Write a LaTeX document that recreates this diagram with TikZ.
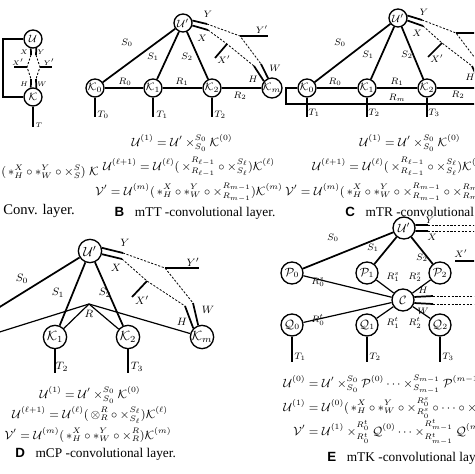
\documentclass[tikz,border=0pt]{standalone}
\usepackage{fontspec}
\setmainfont{Liberation Serif}
\newfontfamily\panelfont{Liberation Sans}
\begin{document}
\begin{tikzpicture}
[x=0.75pt,y=-0.75pt,
tensor/.style={circle,draw,line width=1pt,fill=white,inner sep=0pt,minimum size=13.5pt,font=\footnotesize},
bigtensor/.style={tensor,minimum size=17.5pt,font=\normalsize},
midtensor/.style={tensor,minimum size=16.5pt,font=\small},
leg/.style={line width=1.3pt,black},
bond/.style={line width=0.9pt,black},
conv/.style={line width=0.6pt,dash pattern=on 1.6pt off 1.2pt},
lbl/.style={font=\scriptsize,inner sep=0pt},
biglbl/.style={font=\footnotesize,inner sep=0pt},
tinylbl/.style={font=\tiny,inner sep=0pt},
eqn/.style={inner sep=0pt,font=\fontsize{8.6}{10}\selectfont},
panel/.style={font=\panelfont\bfseries}]

\useasboundingbox (0,0) rectangle (474,474);
\clip (0,0) rectangle (474,474);

%draw the conv. layer (A)
\node[tensor] (aU) at (33,39) {$\mathcal{U}$};
\node[tensor] (aK) at (33,97) {$\mathcal{K}$};
\coordinate (aL) at (3,97);
\coordinate (aT) at (33,127);
\coordinate (aXa) at (31,55); \coordinate (aXj) at (27,67); \coordinate (aXe) at (14,67); \coordinate (aHa) at (31,79);
\coordinate (aYa) at (36,55); \coordinate (aYj) at (40,67); \coordinate (aYe) at (52,67); \coordinate (aWa) at (36,79);
\draw[leg] (aU) -| (aL) -- (aK);
\draw[leg] (aK) -- (aT);
\draw[leg] (aU.257) -- (aXa);
\draw[conv] (aXa) -- (aXj) -- (aHa);
\draw[leg] (aXj) -- (aXe);
\draw[leg] (aHa) -- (aK.103);
\draw[leg] (aU.290) -- (aYa);
\draw[conv] (aYa) -- (aYj) -- (aWa);
\draw[leg] (aYj) -- (aYe);
\draw[leg] (aWa) -- (aK.70);
\node[tinylbl] (aX) at (24,52) {$X$};
\node[tinylbl] (aY) at (41,52) {$Y$};
\node[tinylbl] (aX') at (18,62) {$X'$};
\node[tinylbl] (aY') at (49,62) {$Y'$};
\node[tinylbl] (aH) at (24,84) {$H$};
\node[tinylbl] (aW) at (42,84) {$W$};
\node[tinylbl] (aTl) at (39,125) {$T$};
\node[eqn,anchor=west] (aEq) at (1,172) {$(\,\ast^{X}_{H}\circ\ast^{Y}_{W}\circ\times^{S}_{S})\;\mathcal{K}$};
\node[anchor=west,inner sep=0pt,font=\fontsize{11}{12}\selectfont] (aCap) at (3,211) {Conv. layer.};

%draw the mTT layer (B)
\node[tensor] (bU) at (183,23) {$\mathcal{U}'$};
\node[tensor] (bK0) at (95,88) {$\mathcal{K}_0$};
\node[tensor] (bK1) at (153,88) {$\mathcal{K}_1$};
\node[tensor] (bK2) at (212,88) {$\mathcal{K}_2$};
\node[tensor] (bKm) at (272,88) {$\mathcal{K}_m$};
\draw[bond] (bK0) -- (bK1) -- (bK2) -- (bKm);
\draw[leg] (bU) -- (bK0);
\draw[leg] (bU) -- (bK1);
\draw[leg] (bU) -- (bK2);
\foreach \k/\t in {0/95,1/153,2/212}
  {\coordinate (bT\k) at (\t,117);
   \draw[leg] (bK\k) -- (bT\k);}
\coordinate (bYa) at (207,24); \coordinate (bYj) at (240,36); \coordinate (bYe) at (268,36); \coordinate (bWa) at (261,64);
\coordinate (bXa) at (208,30); \coordinate (bXj) at (227,44); \coordinate (bXe) at (215,58); \coordinate (bHa) at (254,66);
\draw[leg] (bU.15) -- (bYa);
\draw[conv] (bYa) -- (bYj) -- (bWa);
\draw[leg] (bYj) -- (bYe);
\draw[leg] (bWa) -- (bKm.112);
\draw[leg] (bU.-15) -- (bXa);
\draw[conv] (bXa) -- (bXj) -- (bHa);
\draw[leg] (bXj) -- (bXe);
\draw[leg] (bHa) -- (bKm.140);
\node[lbl] (bY) at (208,14) {$Y$};
\node[lbl] (bX) at (202,38) {$X$};
\node[lbl] (bY') at (262,30) {$Y'$};
\node[lbl] (bX') at (224,60) {$X'$};
\node[lbl] (bW) at (275,68) {$W$};
\node[lbl] (bH) at (253,79) {$H$};
\node[lbl] (bS0) at (127,43) {$S_0$};
\node[lbl] (bS1) at (153,57) {$S_1$};
\node[lbl] (bS2) at (187,57) {$S_2$};
\node[lbl] (bR0) at (125,82) {$R_0$};
\node[lbl] (bR1) at (182,82) {$R_1$};
\node[lbl] (bR2) at (240,96) {$R_2$};
\node[lbl] (bT0l) at (103,115) {$T_0$};
\node[lbl] (bT1l) at (162,115) {$T_1$};
\node[lbl] (bT2l) at (220,115) {$T_2$};
\node[eqn] (bEq1) at (182,143) {$\mathcal{U}^{(1)}=\mathcal{U}'\times^{S_0}_{S_0}\mathcal{K}^{(0)}$};
\node[eqn] (bEq2) at (189,167) {$\mathcal{U}^{(\ell+1)}=\mathcal{U}^{(\ell)}(\,\times^{R_{\ell-1}}_{R_{\ell-1}}\circ\times^{S_\ell}_{S_\ell})\mathcal{K}^{(\ell)}$};
\node[eqn] (bEq3) at (189,192) {$\mathcal{V}'=\mathcal{U}^{(m)}(\,\ast^{X}_{H}\circ\ast^{Y}_{W}\circ\times^{R_{m-1}}_{R_{m-1}})\mathcal{K}^{(m)}$};
\node[inner sep=0pt] (bCap) at (195,213) {{\panelfont\bfseries B}\hspace{0.8em}mTT -convolutional layer.};

%draw the mTR layer (C)
\node[tensor] (cU) at (398,18) {$\mathcal{U}'$};
\node[tensor] (cK0) at (307,88) {$\mathcal{K}_0$};
\node[tensor] (cK1) at (367,88) {$\mathcal{K}_1$};
\node[tensor] (cK2) at (427,88) {$\mathcal{K}_2$};
\node[tensor] (cKm) at (487,88) {$\mathcal{K}_m$};
\coordinate (cL) at (286,104);
\coordinate (cR) at (490,104);
\draw[bond] (cK0) -- (cK1) -- (cK2) -- (cKm);
\draw[bond] (cK0) -| (cL) -- (cR);
\draw[leg] (cU) -- (cK0);
\draw[leg] (cU) -- (cK1);
\draw[leg] (cU) -- (cK2);
\foreach \k/\t in {0/307,1/367,2/427}
  {\coordinate (cT\k) at (\t,117);
   \draw[leg] (cK\k) -- (cT\k);}
\coordinate (cYa) at (422,20); \coordinate (cYj) at (456,33); \coordinate (cYe) at (490,33); \coordinate (cWa) at (478,62);
\coordinate (cXa) at (423,26); \coordinate (cXj) at (442,43); \coordinate (cXe) at (428,57); \coordinate (cHa) at (472,66);
\draw[leg] (cU.15) -- (cYa);
\draw[conv] (cYa) -- (cYj) -- (cWa);
\draw[leg] (cYj) -- (cYe);
\draw[leg] (cWa) -- (cKm.112);
\draw[leg] (cU.-15) -- (cXa);
\draw[conv] (cXa) -- (cXj) -- (cHa);
\draw[leg] (cXj) -- (cXe);
\draw[leg] (cHa) -- (cKm.140);
\node[lbl] (cY) at (424,12) {$Y$};
\node[lbl] (cX) at (417,33) {$X$};
\node[lbl] (cX') at (437,59) {$X'$};
\node[lbl] (cH) at (470,77) {$H$};
\node[lbl] (cS0) at (340,43) {$S_0$};
\node[lbl] (cS1) at (368,55) {$S_1$};
\node[lbl] (cS2) at (407,55) {$S_2$};
\node[lbl] (cR0) at (335,82) {$R_0$};
\node[lbl] (cR1) at (397,82) {$R_1$};
\node[lbl] (cR2) at (458,95) {$R_2$};
\node[lbl] (cRm) at (397,98) {$R_m$};
\node[lbl] (cT1l) at (314,113) {$T_1$};
\node[lbl] (cT2l) at (374,113) {$T_2$};
\node[lbl] (cT3l) at (434,113) {$T_3$};
\node[eqn] (cEq1) at (410,143) {$\mathcal{U}^{(1)}=\mathcal{U}'\times^{S_0}_{S_0}\mathcal{K}^{(0)}$};
\node[eqn,anchor=west] (cEq2) at (312,167) {$\mathcal{U}^{(\ell+1)}=\mathcal{U}^{(\ell)}(\,\times^{R_{\ell-1}}_{R_{\ell-1}}\circ\times^{S_\ell}_{S_\ell})\mathcal{K}^{(\ell)}$};
\node[eqn,anchor=west] (cEq3) at (285,192) {$\mathcal{V}'=\mathcal{U}^{(m)}(\,\ast^{X}_{H}\circ\ast^{Y}_{W}\circ\times^{R_{m-1}}_{R_{m-1}}\circ\times^{R_m}_{R_m})\mathcal{K}^{(m)}$};
\node[inner sep=0pt,anchor=west] (cCap) at (345,213) {{\panelfont\bfseries C}\hspace{0.8em}mTR -convolutional layer.};

%draw the mCP layer (D)
\node[bigtensor] (dU) at (90,251) {$\mathcal{U}'$};
\node[bigtensor] (dK1) at (55,337) {$\mathcal{K}_1$};
\node[bigtensor] (dK2) at (128,337) {$\mathcal{K}_2$};
\node[bigtensor] (dKm) at (202,337) {$\mathcal{K}_m$};
\coordinate (dR) at (89,304);
\coordinate (dSe) at (-10,313);
\coordinate (dRe) at (-10,335);
\draw[leg] (dU) -- (dSe);
\draw[leg] (dU) -- (dK1);
\draw[leg] (dU) -- (dK2);
\draw[bond] (dRe) -- (dR);
\draw[bond] (dR) -- (dK1);
\draw[bond] (dR) -- (dK2);
\draw[bond] (dR) -- (dKm);
\foreach \k/\t in {1/55,2/128}
  {\coordinate (dT\k) at (\t,373);
   \draw[leg] (dK\k) -- (dT\k);}
\coordinate (dYa) at (123,253); \coordinate (dYj) at (165,268); \coordinate (dYe) at (199,268); \coordinate (dWa) at (193,303);
\coordinate (dXa) at (122,259); \coordinate (dXj) at (147,281); \coordinate (dXe) at (132,297); \coordinate (dHa) at (185,306);
\draw[leg] (dU.15) -- (dYa);
\draw[conv] (dYa) -- (dYj) -- (dWa);
\draw[leg] (dYj) -- (dYe);
\draw[leg] (dWa) -- (dKm.108);
\draw[leg] (dU.-15) -- (dXa);
\draw[conv] (dXa) -- (dXj) -- (dHa);
\draw[leg] (dXj) -- (dXe);
\draw[leg] (dHa) -- (dKm.135);
\node[biglbl] (dY) at (125,243) {$Y$};
\node[biglbl] (dX) at (116,268) {$X$};
\node[biglbl] (dY') at (193,262) {$Y'$};
\node[biglbl] (dX') at (142,300) {$X'$};
\node[biglbl] (dW) at (208,310) {$W$};
\node[biglbl] (dH) at (182,322) {$H$};
\node[biglbl] (dS0) at (22,279) {$S_0$};
\node[biglbl] (dS1) at (58,293) {$S_1$};
\node[biglbl] (dS2) at (105,293) {$S_2$};
\node[biglbl] (dRl) at (89,314) {$R$};
\node[biglbl] (dT2l) at (62,367) {$T_2$};
\node[biglbl] (dT3l) at (137,367) {$T_3$};
\node[eqn] (dEq1) at (90,395) {$\mathcal{U}^{(1)}=\mathcal{U}'\times^{S_0}_{S_0}\mathcal{K}^{(0)}$};
\node[eqn] (dEq2) at (90,415) {$\mathcal{U}^{(\ell+1)}=\mathcal{U}^{(\ell)}(\,\otimes^{R}_{R}\circ\times^{S_\ell}_{S_\ell})\mathcal{K}^{(\ell)}$};
\node[eqn] (dEq3) at (88,435) {$\mathcal{V}'=\mathcal{U}^{(m)}(\,\ast^{X}_{H}\circ\ast^{Y}_{W}\circ\times^{R}_{R})\mathcal{K}^{(m)}$};
\node[inner sep=0pt,anchor=west] (dCap) at (15,454) {{\panelfont\bfseries D}\hspace{0.8em}mCP -convolutional layer.};

%draw the mTK layer (E)
\node[midtensor] (eU) at (404,228) {$\mathcal{U}'$};
\node[midtensor] (eP0) at (292,273) {$\mathcal{P}_0$};
\node[midtensor] (eP1) at (367,273) {$\mathcal{P}_1$};
\node[midtensor] (eP2) at (440,273) {$\mathcal{P}_2$};
\node[midtensor] (eC) at (403,300) {$\mathcal{C}$};
\node[midtensor] (eQ0) at (292,325) {$\mathcal{Q}_0$};
\node[midtensor] (eQ1) at (367,325) {$\mathcal{Q}_1$};
\node[midtensor] (eQ2) at (440,325) {$\mathcal{Q}_2$};
\foreach \p in {P0,P1,P2}
  \draw[leg] (eU) -- (e\p);
\foreach \p in {P0,P1,P2,Q0,Q1,Q2}
  \draw[bond] (eC) -- (e\p);
\foreach \k/\t in {0/292,1/367,2/440}
  {\coordinate (eT\k) at (\t,362);
   \draw[leg] (eQ\k) -- (eT\k);}
\coordinate (eYa) at (428,225); \coordinate (eYe) at (480,225);
\coordinate (eXa) at (428,231); \coordinate (eXe) at (480,231);
\coordinate (eHa) at (433,296); \coordinate (eHe) at (480,296);
\coordinate (eWa) at (433,304); \coordinate (eWe) at (480,304);
\coordinate (eXs) at (455,261); \coordinate (eXt) at (480,261);
\draw[leg] (eU.15) -- (eYa);
\draw[conv] (eYa) -- (eYe);
\draw[leg] (eU.-15) -- (eXa);
\draw[conv] (eXa) -- (eXe);
\draw[leg] (eC.15) -- (eHa);
\draw[conv] (eHa) -- (eHe);
\draw[leg] (eC.-15) -- (eWa);
\draw[conv] (eWa) -- (eWe);
\draw[leg] (eXs) -- (eXt);
\node[lbl] (eY) at (430,220) {$Y$};
\node[lbl] (eX) at (432,237) {$X$};
\node[lbl] (eX') at (461,254) {$X'$};
\node[lbl] (eH) at (423,290) {$H$};
\node[lbl] (eW) at (423,311) {$W$};
\node[lbl] (eS0) at (333,238) {$S_0$};
\node[lbl] (eS1) at (373,248) {$S_1$};
\node[lbl] (eS2) at (422,258) {$S_2$};
\node[lbl] (eRs0) at (318,282) {$R^s_0$};
\node[lbl] (eRs1) at (393,277) {$R^s_1$};
\node[lbl] (eRs2) at (415,277) {$R^s_2$};
\node[lbl] (eRt0) at (318,320) {$R^t_0$};
\node[lbl] (eRt1) at (393,323) {$R^t_1$};
\node[lbl] (eRt2) at (415,323) {$R^t_2$};
\node[lbl] (eT1l) at (300,357) {$T_1$};
\node[lbl] (eT2l) at (375,357) {$T_2$};
\node[lbl] (eT3l) at (448,357) {$T_3$};
\node[eqn,anchor=west] (eEq1) at (283,384) {$\mathcal{U}^{(0)}=\mathcal{U}'\times^{S_0}_{S_0}\mathcal{P}^{(0)}\cdots\times^{S_{m-1}}_{S_{m-1}}\mathcal{P}^{(m-1)}$};
\node[eqn,anchor=west] (eEq2) at (283,408) {$\mathcal{U}^{(1)}=\mathcal{U}^{(0)}(\,\ast^{X}_{H}\circ\ast^{Y}_{W}\circ\times^{R^s_0}_{R^s_0}\circ\cdots\circ\times^{R^s_{m-1}}_{R^s_{m-1}})\mathcal{C}$};
\node[eqn,anchor=west] (eEq3) at (293,432) {$\mathcal{V}'=\mathcal{U}^{(1)}\times^{R^t_0}_{R^t_0}\mathcal{Q}^{(0)}\cdots\times^{R^t_{m-1}}_{R^t_{m-1}}\mathcal{Q}^{(m-1)}$};
\node[inner sep=0pt,anchor=west] (eCap) at (327,458) {{\panelfont\bfseries E}\hspace{0.8em}mTK -convolutional layer.};

\end{tikzpicture}
\end{document}
